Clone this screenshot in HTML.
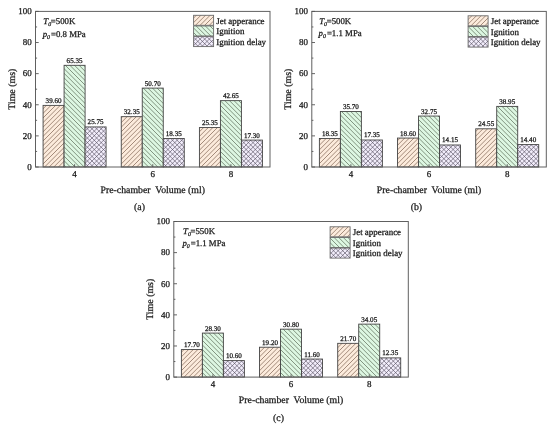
<!DOCTYPE html>
<html><head><meta charset="utf-8"><title>Chart</title><style>
html,body{margin:0;padding:0;background:#fff;}
svg{display:block;filter:blur(0.35px);}
text{font-family:"Liberation Serif",serif;}
</style></head><body>
<svg width="550" height="428" viewBox="0 0 550 428">
<rect width="550" height="428" fill="#fff"/>
<clipPath id="c1"><rect x="43.08" y="105.38" width="21.00" height="61.62"/></clipPath><rect x="43.08" y="105.38" width="21.00" height="61.62" fill="#fcebdc"/><path clip-path="url(#c1)" d="M-20.80 168.00L42.82 104.38M-16.20 168.00L47.42 104.38M-11.60 168.00L52.02 104.38M-7.00 168.00L56.62 104.38M-2.40 168.00L61.22 104.38M2.20 168.00L65.82 104.38M6.80 168.00L70.42 104.38M11.40 168.00L75.02 104.38M16.00 168.00L79.62 104.38M20.60 168.00L84.22 104.38M25.20 168.00L88.82 104.38M29.80 168.00L93.42 104.38M34.40 168.00L98.02 104.38M39.00 168.00L102.62 104.38M43.60 168.00L107.22 104.38M48.20 168.00L111.82 104.38M52.80 168.00L116.42 104.38M57.40 168.00L121.02 104.38M62.00 168.00L125.62 104.38M66.60 168.00L130.22 104.38" stroke="#86695a" stroke-width="0.75" fill="none"/>
<rect x="43.08" y="105.38" width="21.00" height="61.62" fill="none" stroke="#444" stroke-width="0.9"/>
<clipPath id="c2"><rect x="64.08" y="65.32" width="21.00" height="101.68"/></clipPath><rect x="64.08" y="65.32" width="21.00" height="101.68" fill="#ddf7e2"/><path clip-path="url(#c2)" d="M-41.48 64.32L62.20 168.00M-36.88 64.32L66.80 168.00M-32.28 64.32L71.40 168.00M-27.68 64.32L76.00 168.00M-23.08 64.32L80.60 168.00M-18.48 64.32L85.20 168.00M-13.88 64.32L89.80 168.00M-9.28 64.32L94.40 168.00M-4.68 64.32L99.00 168.00M-0.08 64.32L103.60 168.00M4.52 64.32L108.20 168.00M9.12 64.32L112.80 168.00M13.72 64.32L117.40 168.00M18.32 64.32L122.00 168.00M22.92 64.32L126.60 168.00M27.52 64.32L131.20 168.00M32.12 64.32L135.80 168.00M36.72 64.32L140.40 168.00M41.32 64.32L145.00 168.00M45.92 64.32L149.60 168.00M50.52 64.32L154.20 168.00M55.12 64.32L158.80 168.00M59.72 64.32L163.40 168.00M64.32 64.32L168.00 168.00M68.92 64.32L172.60 168.00M73.52 64.32L177.20 168.00M78.12 64.32L181.80 168.00M82.72 64.32L186.40 168.00M87.32 64.32L191.00 168.00" stroke="#63715f" stroke-width="0.75" fill="none"/>
<rect x="64.08" y="65.32" width="21.00" height="101.68" fill="none" stroke="#444" stroke-width="0.9"/>
<clipPath id="c3"><rect x="85.08" y="126.93" width="21.00" height="40.07"/></clipPath><rect x="85.08" y="126.93" width="21.00" height="40.07" fill="#f1ecfa"/><path clip-path="url(#c3)" d="M43.60 168.00L85.67 125.93M48.20 168.00L90.27 125.93M52.80 168.00L94.87 125.93M57.40 168.00L99.47 125.93M62.00 168.00L104.07 125.93M66.60 168.00L108.67 125.93M71.20 168.00L113.27 125.93M75.80 168.00L117.87 125.93M80.40 168.00L122.47 125.93M85.00 168.00L127.07 125.93M89.60 168.00L131.67 125.93M94.20 168.00L136.27 125.93M98.80 168.00L140.87 125.93M103.40 168.00L145.47 125.93M108.00 168.00L150.07 125.93M43.13 125.93L85.20 168.00M47.73 125.93L89.80 168.00M52.33 125.93L94.40 168.00M56.93 125.93L99.00 168.00M61.53 125.93L103.60 168.00M66.13 125.93L108.20 168.00M70.73 125.93L112.80 168.00M75.33 125.93L117.40 168.00M79.93 125.93L122.00 168.00M84.53 125.93L126.60 168.00M89.13 125.93L131.20 168.00M93.73 125.93L135.80 168.00M98.33 125.93L140.40 168.00M102.93 125.93L145.00 168.00M107.53 125.93L149.60 168.00" stroke="#4e4658" stroke-width="0.6" fill="none"/>
<rect x="85.08" y="126.93" width="21.00" height="40.07" fill="none" stroke="#444" stroke-width="0.9"/>
<clipPath id="c4"><rect x="121.25" y="116.66" width="21.00" height="50.34"/></clipPath><rect x="121.25" y="116.66" width="21.00" height="50.34" fill="#fcebdc"/><path clip-path="url(#c4)" d="M66.60 168.00L118.94 115.66M71.20 168.00L123.54 115.66M75.80 168.00L128.14 115.66M80.40 168.00L132.74 115.66M85.00 168.00L137.34 115.66M89.60 168.00L141.94 115.66M94.20 168.00L146.54 115.66M98.80 168.00L151.14 115.66M103.40 168.00L155.74 115.66M108.00 168.00L160.34 115.66M112.60 168.00L164.94 115.66M117.20 168.00L169.54 115.66M121.80 168.00L174.14 115.66M126.40 168.00L178.74 115.66M131.00 168.00L183.34 115.66M135.60 168.00L187.94 115.66M140.20 168.00L192.54 115.66M144.80 168.00L197.14 115.66" stroke="#86695a" stroke-width="0.75" fill="none"/>
<rect x="121.25" y="116.66" width="21.00" height="50.34" fill="none" stroke="#444" stroke-width="0.9"/>
<clipPath id="c5"><rect x="142.25" y="88.11" width="21.00" height="78.89"/></clipPath><rect x="142.25" y="88.11" width="21.00" height="78.89" fill="#ddf7e2"/><path clip-path="url(#c5)" d="M59.51 87.11L140.40 168.00M64.11 87.11L145.00 168.00M68.71 87.11L149.60 168.00M73.31 87.11L154.20 168.00M77.91 87.11L158.80 168.00M82.51 87.11L163.40 168.00M87.11 87.11L168.00 168.00M91.71 87.11L172.60 168.00M96.31 87.11L177.20 168.00M100.91 87.11L181.80 168.00M105.51 87.11L186.40 168.00M110.11 87.11L191.00 168.00M114.71 87.11L195.60 168.00M119.31 87.11L200.20 168.00M123.91 87.11L204.80 168.00M128.51 87.11L209.40 168.00M133.11 87.11L214.00 168.00M137.71 87.11L218.60 168.00M142.31 87.11L223.20 168.00M146.91 87.11L227.80 168.00M151.51 87.11L232.40 168.00M156.11 87.11L237.00 168.00M160.71 87.11L241.60 168.00M165.31 87.11L246.20 168.00" stroke="#63715f" stroke-width="0.75" fill="none"/>
<rect x="142.25" y="88.11" width="21.00" height="78.89" fill="none" stroke="#444" stroke-width="0.9"/>
<clipPath id="c6"><rect x="163.25" y="138.45" width="21.00" height="28.55"/></clipPath><rect x="163.25" y="138.45" width="21.00" height="28.55" fill="#f1ecfa"/><path clip-path="url(#c6)" d="M131.00 168.00L161.55 137.45M135.60 168.00L166.15 137.45M140.20 168.00L170.75 137.45M144.80 168.00L175.35 137.45M149.40 168.00L179.95 137.45M154.00 168.00L184.55 137.45M158.60 168.00L189.15 137.45M163.20 168.00L193.75 137.45M167.80 168.00L198.35 137.45M172.40 168.00L202.95 137.45M177.00 168.00L207.55 137.45M181.60 168.00L212.15 137.45M186.20 168.00L216.75 137.45M132.85 137.45L163.40 168.00M137.45 137.45L168.00 168.00M142.05 137.45L172.60 168.00M146.65 137.45L177.20 168.00M151.25 137.45L181.80 168.00M155.85 137.45L186.40 168.00M160.45 137.45L191.00 168.00M165.05 137.45L195.60 168.00M169.65 137.45L200.20 168.00M174.25 137.45L204.80 168.00M178.85 137.45L209.40 168.00M183.45 137.45L214.00 168.00" stroke="#4e4658" stroke-width="0.6" fill="none"/>
<rect x="163.25" y="138.45" width="21.00" height="28.55" fill="none" stroke="#444" stroke-width="0.9"/>
<clipPath id="c7"><rect x="199.42" y="127.56" width="21.00" height="39.44"/></clipPath><rect x="199.42" y="127.56" width="21.00" height="39.44" fill="#fcebdc"/><path clip-path="url(#c7)" d="M158.60 168.00L200.04 126.56M163.20 168.00L204.64 126.56M167.80 168.00L209.24 126.56M172.40 168.00L213.84 126.56M177.00 168.00L218.44 126.56M181.60 168.00L223.04 126.56M186.20 168.00L227.64 126.56M190.80 168.00L232.24 126.56M195.40 168.00L236.84 126.56M200.00 168.00L241.44 126.56M204.60 168.00L246.04 126.56M209.20 168.00L250.64 126.56M213.80 168.00L255.24 126.56M218.40 168.00L259.84 126.56M223.00 168.00L264.44 126.56" stroke="#86695a" stroke-width="0.75" fill="none"/>
<rect x="199.42" y="127.56" width="21.00" height="39.44" fill="none" stroke="#444" stroke-width="0.9"/>
<clipPath id="c8"><rect x="220.42" y="100.64" width="21.00" height="66.36"/></clipPath><rect x="220.42" y="100.64" width="21.00" height="66.36" fill="#ddf7e2"/><path clip-path="url(#c8)" d="M150.24 99.64L218.60 168.00M154.84 99.64L223.20 168.00M159.44 99.64L227.80 168.00M164.04 99.64L232.40 168.00M168.64 99.64L237.00 168.00M173.24 99.64L241.60 168.00M177.84 99.64L246.20 168.00M182.44 99.64L250.80 168.00M187.04 99.64L255.40 168.00M191.64 99.64L260.00 168.00M196.24 99.64L264.60 168.00M200.84 99.64L269.20 168.00M205.44 99.64L273.80 168.00M210.04 99.64L278.40 168.00M214.64 99.64L283.00 168.00M219.24 99.64L287.60 168.00M223.84 99.64L292.20 168.00M228.44 99.64L296.80 168.00M233.04 99.64L301.40 168.00M237.64 99.64L306.00 168.00M242.24 99.64L310.60 168.00" stroke="#63715f" stroke-width="0.75" fill="none"/>
<rect x="220.42" y="100.64" width="21.00" height="66.36" fill="none" stroke="#444" stroke-width="0.9"/>
<clipPath id="c9"><rect x="241.42" y="140.08" width="21.00" height="26.92"/></clipPath><rect x="241.42" y="140.08" width="21.00" height="26.92" fill="#f1ecfa"/><path clip-path="url(#c9)" d="M209.20 168.00L238.12 139.08M213.80 168.00L242.72 139.08M218.40 168.00L247.32 139.08M223.00 168.00L251.92 139.08M227.60 168.00L256.52 139.08M232.20 168.00L261.12 139.08M236.80 168.00L265.72 139.08M241.40 168.00L270.32 139.08M246.00 168.00L274.92 139.08M250.60 168.00L279.52 139.08M255.20 168.00L284.12 139.08M259.80 168.00L288.72 139.08M264.40 168.00L293.32 139.08M212.68 139.08L241.60 168.00M217.28 139.08L246.20 168.00M221.88 139.08L250.80 168.00M226.48 139.08L255.40 168.00M231.08 139.08L260.00 168.00M235.68 139.08L264.60 168.00M240.28 139.08L269.20 168.00M244.88 139.08L273.80 168.00M249.48 139.08L278.40 168.00M254.08 139.08L283.00 168.00M258.68 139.08L287.60 168.00M263.28 139.08L292.20 168.00" stroke="#4e4658" stroke-width="0.6" fill="none"/>
<rect x="241.42" y="140.08" width="21.00" height="26.92" fill="none" stroke="#444" stroke-width="0.9"/>
<rect x="35.5" y="11.4" width="234.5" height="155.6" fill="none" stroke="#606060" stroke-width="1"/>
<line x1="35.5" y1="167.00" x2="38.7" y2="167.00" stroke="#555" stroke-width="0.9"/>
<line x1="35.5" y1="151.44" x2="37.1" y2="151.44" stroke="#555" stroke-width="0.9"/>
<line x1="35.5" y1="135.88" x2="38.7" y2="135.88" stroke="#555" stroke-width="0.9"/>
<line x1="35.5" y1="120.32" x2="37.1" y2="120.32" stroke="#555" stroke-width="0.9"/>
<line x1="35.5" y1="104.76" x2="38.7" y2="104.76" stroke="#555" stroke-width="0.9"/>
<line x1="35.5" y1="89.20" x2="37.1" y2="89.20" stroke="#555" stroke-width="0.9"/>
<line x1="35.5" y1="73.64" x2="38.7" y2="73.64" stroke="#555" stroke-width="0.9"/>
<line x1="35.5" y1="58.08" x2="37.1" y2="58.08" stroke="#555" stroke-width="0.9"/>
<line x1="35.5" y1="42.52" x2="38.7" y2="42.52" stroke="#555" stroke-width="0.9"/>
<line x1="35.5" y1="26.96" x2="37.1" y2="26.96" stroke="#555" stroke-width="0.9"/>
<line x1="35.5" y1="11.40" x2="38.7" y2="11.40" stroke="#555" stroke-width="0.9"/>
<line x1="74.58" y1="167.0" x2="74.58" y2="164.20" stroke="#555" stroke-width="0.9"/>
<line x1="152.75" y1="167.0" x2="152.75" y2="164.20" stroke="#555" stroke-width="0.9"/>
<line x1="230.92" y1="167.0" x2="230.92" y2="164.20" stroke="#555" stroke-width="0.9"/>
<clipPath id="c10"><rect x="193.60" y="15.30" width="20.00" height="10.00"/></clipPath><rect x="193.60" y="15.30" width="20.00" height="10.00" fill="#fcebdc"/><path clip-path="url(#c10)" d="M180.70 26.30L192.70 14.30M185.30 26.30L197.30 14.30M189.90 26.30L201.90 14.30M194.50 26.30L206.50 14.30M199.10 26.30L211.10 14.30M203.70 26.30L215.70 14.30M208.30 26.30L220.30 14.30M212.90 26.30L224.90 14.30" stroke="#86695a" stroke-width="0.75" fill="none"/>
<rect x="193.60" y="15.30" width="20" height="10" fill="none" stroke="#6a6a6a" stroke-width="0.9"/>
<clipPath id="c11"><rect x="193.60" y="25.95" width="20.00" height="10.00"/></clipPath><rect x="193.60" y="25.95" width="20.00" height="10.00" fill="#ddf7e2"/><path clip-path="url(#c11)" d="M181.35 24.95L193.35 36.95M185.95 24.95L197.95 36.95M190.55 24.95L202.55 36.95M195.15 24.95L207.15 36.95M199.75 24.95L211.75 36.95M204.35 24.95L216.35 36.95M208.95 24.95L220.95 36.95M213.55 24.95L225.55 36.95" stroke="#63715f" stroke-width="0.75" fill="none"/>
<rect x="193.60" y="25.95" width="20" height="10" fill="none" stroke="#6a6a6a" stroke-width="0.9"/>
<clipPath id="c12"><rect x="193.60" y="36.60" width="20.00" height="10.00"/></clipPath><rect x="193.60" y="36.60" width="20.00" height="10.00" fill="#f1ecfa"/><path clip-path="url(#c12)" d="M182.40 47.60L194.40 35.60M187.00 47.60L199.00 35.60M191.60 47.60L203.60 35.60M196.20 47.60L208.20 35.60M200.80 47.60L212.80 35.60M205.40 47.60L217.40 35.60M210.00 47.60L222.00 35.60M214.60 47.60L226.60 35.60M178.20 35.60L190.20 47.60M182.80 35.60L194.80 47.60M187.40 35.60L199.40 47.60M192.00 35.60L204.00 47.60M196.60 35.60L208.60 47.60M201.20 35.60L213.20 47.60M205.80 35.60L217.80 47.60M210.40 35.60L222.40 47.60M215.00 35.60L227.00 47.60" stroke="#4e4658" stroke-width="0.6" fill="none"/>
<rect x="193.60" y="36.60" width="20" height="10" fill="none" stroke="#6a6a6a" stroke-width="0.9"/>
<g fill="#1a1a1a" stroke="#1a1a1a" stroke-width="0.26">
<text x="53.58" y="102.88" font-size="7.1" text-anchor="middle" transform="matrix(1 0 0.00175 1 -0.1796 0)">39.60</text>
<text x="74.58" y="62.82" font-size="7.1" text-anchor="middle" transform="matrix(1 0 0.00175 1 -0.1096 0)">65.35</text>
<text x="95.58" y="124.43" font-size="7.1" text-anchor="middle" transform="matrix(1 0 0.00175 1 -0.2172 0)">25.75</text>
<text x="131.75" y="114.16" font-size="7.1" text-anchor="middle" transform="matrix(1 0 0.00175 1 -0.1993 0)">32.35</text>
<text x="152.75" y="85.61" font-size="7.1" text-anchor="middle" transform="matrix(1 0 0.00175 1 -0.1494 0)">50.70</text>
<text x="173.75" y="135.95" font-size="7.1" text-anchor="middle" transform="matrix(1 0 0.00175 1 -0.2373 0)">18.35</text>
<text x="209.92" y="125.06" font-size="7.1" text-anchor="middle" transform="matrix(1 0 0.00175 1 -0.2183 0)">25.35</text>
<text x="230.92" y="98.14" font-size="7.1" text-anchor="middle" transform="matrix(1 0 0.00175 1 -0.1713 0)">42.65</text>
<text x="251.92" y="137.58" font-size="7.1" text-anchor="middle" transform="matrix(1 0 0.00175 1 -0.2401 0)">17.30</text>
<text x="31.70" y="169.80" font-size="9.0" text-anchor="end" transform="matrix(1 0 0.00175 1 -0.2964 0)">0</text>
<text x="31.70" y="138.68" font-size="9.0" text-anchor="end" transform="matrix(1 0 0.00175 1 -0.2420 0)">20</text>
<text x="31.70" y="107.56" font-size="9.0" text-anchor="end" transform="matrix(1 0 0.00175 1 -0.1877 0)">40</text>
<text x="31.70" y="76.44" font-size="9.0" text-anchor="end" transform="matrix(1 0 0.00175 1 -0.1334 0)">60</text>
<text x="31.70" y="45.32" font-size="9.0" text-anchor="end" transform="matrix(1 0 0.00175 1 -0.0791 0)">80</text>
<text x="31.70" y="14.20" font-size="9.0" text-anchor="end" transform="matrix(1 0 0.00175 1 -0.0248 0)">100</text>
<text x="74.58" y="176.80" font-size="9.0" text-anchor="middle" transform="matrix(1 0 0.00175 1 -0.3086 0)">4</text>
<text x="152.75" y="176.80" font-size="9.0" text-anchor="middle" transform="matrix(1 0 0.00175 1 -0.3086 0)">6</text>
<text x="230.92" y="176.80" font-size="9.0" text-anchor="middle" transform="matrix(1 0 0.00175 1 -0.3086 0)">8</text>
<text x="152.75" y="193.20" text-anchor="middle" transform="matrix(1 0 0.00175 1 -0.3372 0)"><tspan font-size="9.80">Pre-chamber</tspan><tspan font-size="9.80">&#160; Volume (ml)</tspan></text>
<text transform="translate(14.90,89.20) rotate(-90) skewX(0.1)" font-size="9.9" text-anchor="middle">Time (ms)</text>
<text x="139.50" y="210.10" font-size="9.9" text-anchor="middle" transform="matrix(1 0 0.00175 1 -0.3667 0)">(a)</text>
<text x="43.30" y="23.55" transform="matrix(1 0 0.00175 1 -0.0411 0)"><tspan font-style="italic" font-size="8.80">T</tspan><tspan font-style="italic" font-size="5.81" dy="2">0</tspan><tspan font-size="8.80" dx="-0.3" dy="-2">=500K</tspan></text>
<text x="42.70" y="36.90" transform="matrix(1 0 0.00175 1 -0.0644 0)"><tspan font-style="italic" font-size="8.80">p</tspan><tspan font-style="italic" font-size="5.81" dy="2">0</tspan><tspan font-size="8.80" dx="1.0" dy="-2">=0.8 MPa</tspan></text>
<text x="216.20" y="23.70" font-size="8.95" transform="matrix(1 0 0.00175 1 -0.0414 0)">Jet apperance</text>
<text x="216.20" y="34.35" font-size="8.95" transform="matrix(1 0 0.00175 1 -0.0600 0)">Ignition</text>
<text x="216.20" y="45.00" font-size="8.95" transform="matrix(1 0 0.00175 1 -0.0785 0)">Ignition delay</text>
</g>
<clipPath id="c13"><rect x="319.38" y="138.45" width="21.00" height="28.55"/></clipPath><rect x="319.38" y="138.45" width="21.00" height="28.55" fill="#fcebdc"/><path clip-path="url(#c13)" d="M287.40 168.00L317.95 137.45M292.00 168.00L322.55 137.45M296.60 168.00L327.15 137.45M301.20 168.00L331.75 137.45M305.80 168.00L336.35 137.45M310.40 168.00L340.95 137.45M315.00 168.00L345.55 137.45M319.60 168.00L350.15 137.45M324.20 168.00L354.75 137.45M328.80 168.00L359.35 137.45M333.40 168.00L363.95 137.45M338.00 168.00L368.55 137.45M342.60 168.00L373.15 137.45" stroke="#86695a" stroke-width="0.75" fill="none"/>
<rect x="319.38" y="138.45" width="21.00" height="28.55" fill="none" stroke="#444" stroke-width="0.9"/>
<clipPath id="c14"><rect x="340.38" y="111.45" width="21.00" height="55.55"/></clipPath><rect x="340.38" y="111.45" width="21.00" height="55.55" fill="#ddf7e2"/><path clip-path="url(#c14)" d="M280.65 110.45L338.20 168.00M285.25 110.45L342.80 168.00M289.85 110.45L347.40 168.00M294.45 110.45L352.00 168.00M299.05 110.45L356.60 168.00M303.65 110.45L361.20 168.00M308.25 110.45L365.80 168.00M312.85 110.45L370.40 168.00M317.45 110.45L375.00 168.00M322.05 110.45L379.60 168.00M326.65 110.45L384.20 168.00M331.25 110.45L388.80 168.00M335.85 110.45L393.40 168.00M340.45 110.45L398.00 168.00M345.05 110.45L402.60 168.00M349.65 110.45L407.20 168.00M354.25 110.45L411.80 168.00M358.85 110.45L416.40 168.00M363.45 110.45L421.00 168.00" stroke="#63715f" stroke-width="0.75" fill="none"/>
<rect x="340.38" y="111.45" width="21.00" height="55.55" fill="none" stroke="#444" stroke-width="0.9"/>
<clipPath id="c15"><rect x="361.38" y="140.00" width="21.00" height="27.00"/></clipPath><rect x="361.38" y="140.00" width="21.00" height="27.00" fill="#f1ecfa"/><path clip-path="url(#c15)" d="M328.80 168.00L357.80 139.00M333.40 168.00L362.40 139.00M338.00 168.00L367.00 139.00M342.60 168.00L371.60 139.00M347.20 168.00L376.20 139.00M351.80 168.00L380.80 139.00M356.40 168.00L385.40 139.00M361.00 168.00L390.00 139.00M365.60 168.00L394.60 139.00M370.20 168.00L399.20 139.00M374.80 168.00L403.80 139.00M379.40 168.00L408.40 139.00M384.00 168.00L413.00 139.00M332.20 139.00L361.20 168.00M336.80 139.00L365.80 168.00M341.40 139.00L370.40 168.00M346.00 139.00L375.00 168.00M350.60 139.00L379.60 168.00M355.20 139.00L384.20 168.00M359.80 139.00L388.80 168.00M364.40 139.00L393.40 168.00M369.00 139.00L398.00 168.00M373.60 139.00L402.60 168.00M378.20 139.00L407.20 168.00M382.80 139.00L411.80 168.00" stroke="#4e4658" stroke-width="0.6" fill="none"/>
<rect x="361.38" y="140.00" width="21.00" height="27.00" fill="none" stroke="#444" stroke-width="0.9"/>
<clipPath id="c16"><rect x="397.55" y="138.06" width="21.00" height="28.94"/></clipPath><rect x="397.55" y="138.06" width="21.00" height="28.94" fill="#fcebdc"/><path clip-path="url(#c16)" d="M365.60 168.00L396.54 137.06M370.20 168.00L401.14 137.06M374.80 168.00L405.74 137.06M379.40 168.00L410.34 137.06M384.00 168.00L414.94 137.06M388.60 168.00L419.54 137.06M393.20 168.00L424.14 137.06M397.80 168.00L428.74 137.06M402.40 168.00L433.34 137.06M407.00 168.00L437.94 137.06M411.60 168.00L442.54 137.06M416.20 168.00L447.14 137.06M420.80 168.00L451.74 137.06" stroke="#86695a" stroke-width="0.75" fill="none"/>
<rect x="397.55" y="138.06" width="21.00" height="28.94" fill="none" stroke="#444" stroke-width="0.9"/>
<clipPath id="c17"><rect x="418.55" y="116.04" width="21.00" height="50.96"/></clipPath><rect x="418.55" y="116.04" width="21.00" height="50.96" fill="#ddf7e2"/><path clip-path="url(#c17)" d="M363.44 115.04L416.40 168.00M368.04 115.04L421.00 168.00M372.64 115.04L425.60 168.00M377.24 115.04L430.20 168.00M381.84 115.04L434.80 168.00M386.44 115.04L439.40 168.00M391.04 115.04L444.00 168.00M395.64 115.04L448.60 168.00M400.24 115.04L453.20 168.00M404.84 115.04L457.80 168.00M409.44 115.04L462.40 168.00M414.04 115.04L467.00 168.00M418.64 115.04L471.60 168.00M423.24 115.04L476.20 168.00M427.84 115.04L480.80 168.00M432.44 115.04L485.40 168.00M437.04 115.04L490.00 168.00M441.64 115.04L494.60 168.00" stroke="#63715f" stroke-width="0.75" fill="none"/>
<rect x="418.55" y="116.04" width="21.00" height="50.96" fill="none" stroke="#444" stroke-width="0.9"/>
<clipPath id="c18"><rect x="439.55" y="144.98" width="21.00" height="22.02"/></clipPath><rect x="439.55" y="144.98" width="21.00" height="22.02" fill="#f1ecfa"/><path clip-path="url(#c18)" d="M416.20 168.00L440.22 143.98M420.80 168.00L444.82 143.98M425.40 168.00L449.42 143.98M430.00 168.00L454.02 143.98M434.60 168.00L458.62 143.98M439.20 168.00L463.22 143.98M443.80 168.00L467.82 143.98M448.40 168.00L472.42 143.98M453.00 168.00L477.02 143.98M457.60 168.00L481.62 143.98M462.20 168.00L486.22 143.98M415.38 143.98L439.40 168.00M419.98 143.98L444.00 168.00M424.58 143.98L448.60 168.00M429.18 143.98L453.20 168.00M433.78 143.98L457.80 168.00M438.38 143.98L462.40 168.00M442.98 143.98L467.00 168.00M447.58 143.98L471.60 168.00M452.18 143.98L476.20 168.00M456.78 143.98L480.80 168.00M461.38 143.98L485.40 168.00" stroke="#4e4658" stroke-width="0.6" fill="none"/>
<rect x="439.55" y="144.98" width="21.00" height="22.02" fill="none" stroke="#444" stroke-width="0.9"/>
<clipPath id="c19"><rect x="475.72" y="128.80" width="21.00" height="38.20"/></clipPath><rect x="475.72" y="128.80" width="21.00" height="38.20" fill="#fcebdc"/><path clip-path="url(#c19)" d="M434.60 168.00L474.80 127.80M439.20 168.00L479.40 127.80M443.80 168.00L484.00 127.80M448.40 168.00L488.60 127.80M453.00 168.00L493.20 127.80M457.60 168.00L497.80 127.80M462.20 168.00L502.40 127.80M466.80 168.00L507.00 127.80M471.40 168.00L511.60 127.80M476.00 168.00L516.20 127.80M480.60 168.00L520.80 127.80M485.20 168.00L525.40 127.80M489.80 168.00L530.00 127.80M494.40 168.00L534.60 127.80M499.00 168.00L539.20 127.80" stroke="#86695a" stroke-width="0.75" fill="none"/>
<rect x="475.72" y="128.80" width="21.00" height="38.20" fill="none" stroke="#444" stroke-width="0.9"/>
<clipPath id="c20"><rect x="496.72" y="106.39" width="21.00" height="60.61"/></clipPath><rect x="496.72" y="106.39" width="21.00" height="60.61" fill="#ddf7e2"/><path clip-path="url(#c20)" d="M431.99 105.39L494.60 168.00M436.59 105.39L499.20 168.00M441.19 105.39L503.80 168.00M445.79 105.39L508.40 168.00M450.39 105.39L513.00 168.00M454.99 105.39L517.60 168.00M459.59 105.39L522.20 168.00M464.19 105.39L526.80 168.00M468.79 105.39L531.40 168.00M473.39 105.39L536.00 168.00M477.99 105.39L540.60 168.00M482.59 105.39L545.20 168.00M487.19 105.39L549.80 168.00M491.79 105.39L554.40 168.00M496.39 105.39L559.00 168.00M500.99 105.39L563.60 168.00M505.59 105.39L568.20 168.00M510.19 105.39L572.80 168.00M514.79 105.39L577.40 168.00M519.39 105.39L582.00 168.00" stroke="#63715f" stroke-width="0.75" fill="none"/>
<rect x="496.72" y="106.39" width="21.00" height="60.61" fill="none" stroke="#444" stroke-width="0.9"/>
<clipPath id="c21"><rect x="517.72" y="144.59" width="21.00" height="22.41"/></clipPath><rect x="517.72" y="144.59" width="21.00" height="22.41" fill="#f1ecfa"/><path clip-path="url(#c21)" d="M489.80 168.00L514.21 143.59M494.40 168.00L518.81 143.59M499.00 168.00L523.41 143.59M503.60 168.00L528.01 143.59M508.20 168.00L532.61 143.59M512.80 168.00L537.21 143.59M517.40 168.00L541.81 143.59M522.00 168.00L546.41 143.59M526.60 168.00L551.01 143.59M531.20 168.00L555.61 143.59M535.80 168.00L560.21 143.59M540.40 168.00L564.81 143.59M493.19 143.59L517.60 168.00M497.79 143.59L522.20 168.00M502.39 143.59L526.80 168.00M506.99 143.59L531.40 168.00M511.59 143.59L536.00 168.00M516.19 143.59L540.60 168.00M520.79 143.59L545.20 168.00M525.39 143.59L549.80 168.00M529.99 143.59L554.40 168.00M534.59 143.59L559.00 168.00M539.19 143.59L563.60 168.00" stroke="#4e4658" stroke-width="0.6" fill="none"/>
<rect x="517.72" y="144.59" width="21.00" height="22.41" fill="none" stroke="#444" stroke-width="0.9"/>
<rect x="311.8" y="11.4" width="234.5" height="155.6" fill="none" stroke="#606060" stroke-width="1"/>
<line x1="311.8" y1="167.00" x2="315.0" y2="167.00" stroke="#555" stroke-width="0.9"/>
<line x1="311.8" y1="151.44" x2="313.40000000000003" y2="151.44" stroke="#555" stroke-width="0.9"/>
<line x1="311.8" y1="135.88" x2="315.0" y2="135.88" stroke="#555" stroke-width="0.9"/>
<line x1="311.8" y1="120.32" x2="313.40000000000003" y2="120.32" stroke="#555" stroke-width="0.9"/>
<line x1="311.8" y1="104.76" x2="315.0" y2="104.76" stroke="#555" stroke-width="0.9"/>
<line x1="311.8" y1="89.20" x2="313.40000000000003" y2="89.20" stroke="#555" stroke-width="0.9"/>
<line x1="311.8" y1="73.64" x2="315.0" y2="73.64" stroke="#555" stroke-width="0.9"/>
<line x1="311.8" y1="58.08" x2="313.40000000000003" y2="58.08" stroke="#555" stroke-width="0.9"/>
<line x1="311.8" y1="42.52" x2="315.0" y2="42.52" stroke="#555" stroke-width="0.9"/>
<line x1="311.8" y1="26.96" x2="313.40000000000003" y2="26.96" stroke="#555" stroke-width="0.9"/>
<line x1="311.8" y1="11.40" x2="315.0" y2="11.40" stroke="#555" stroke-width="0.9"/>
<line x1="350.88" y1="167.0" x2="350.88" y2="164.20" stroke="#555" stroke-width="0.9"/>
<line x1="429.05" y1="167.0" x2="429.05" y2="164.20" stroke="#555" stroke-width="0.9"/>
<line x1="507.22" y1="167.0" x2="507.22" y2="164.20" stroke="#555" stroke-width="0.9"/>
<clipPath id="c22"><rect x="468.10" y="15.80" width="20.00" height="10.00"/></clipPath><rect x="468.10" y="15.80" width="20.00" height="10.00" fill="#fcebdc"/><path clip-path="url(#c22)" d="M456.20 26.80L468.20 14.80M460.80 26.80L472.80 14.80M465.40 26.80L477.40 14.80M470.00 26.80L482.00 14.80M474.60 26.80L486.60 14.80M479.20 26.80L491.20 14.80M483.80 26.80L495.80 14.80M488.40 26.80L500.40 14.80" stroke="#86695a" stroke-width="0.75" fill="none"/>
<rect x="468.10" y="15.80" width="20" height="10" fill="none" stroke="#6a6a6a" stroke-width="0.9"/>
<clipPath id="c23"><rect x="468.10" y="26.45" width="20.00" height="10.00"/></clipPath><rect x="468.10" y="26.45" width="20.00" height="10.00" fill="#ddf7e2"/><path clip-path="url(#c23)" d="M453.25 25.45L465.25 37.45M457.85 25.45L469.85 37.45M462.45 25.45L474.45 37.45M467.05 25.45L479.05 37.45M471.65 25.45L483.65 37.45M476.25 25.45L488.25 37.45M480.85 25.45L492.85 37.45M485.45 25.45L497.45 37.45M490.05 25.45L502.05 37.45" stroke="#63715f" stroke-width="0.75" fill="none"/>
<rect x="468.10" y="26.45" width="20" height="10" fill="none" stroke="#6a6a6a" stroke-width="0.9"/>
<clipPath id="c24"><rect x="468.10" y="37.10" width="20.00" height="10.00"/></clipPath><rect x="468.10" y="37.10" width="20.00" height="10.00" fill="#f1ecfa"/><path clip-path="url(#c24)" d="M453.30 48.10L465.30 36.10M457.90 48.10L469.90 36.10M462.50 48.10L474.50 36.10M467.10 48.10L479.10 36.10M471.70 48.10L483.70 36.10M476.30 48.10L488.30 36.10M480.90 48.10L492.90 36.10M485.50 48.10L497.50 36.10M490.10 48.10L502.10 36.10M454.70 36.10L466.70 48.10M459.30 36.10L471.30 48.10M463.90 36.10L475.90 48.10M468.50 36.10L480.50 48.10M473.10 36.10L485.10 48.10M477.70 36.10L489.70 48.10M482.30 36.10L494.30 48.10M486.90 36.10L498.90 48.10M491.50 36.10L503.50 48.10" stroke="#4e4658" stroke-width="0.6" fill="none"/>
<rect x="468.10" y="37.10" width="20" height="10" fill="none" stroke="#6a6a6a" stroke-width="0.9"/>
<g fill="#1a1a1a" stroke="#1a1a1a" stroke-width="0.26">
<text x="329.88" y="135.95" font-size="7.1" text-anchor="middle" transform="matrix(1 0 0.00175 1 -0.2373 0)">18.35</text>
<text x="350.88" y="108.95" font-size="7.1" text-anchor="middle" transform="matrix(1 0 0.00175 1 -0.1902 0)">35.70</text>
<text x="371.88" y="137.50" font-size="7.1" text-anchor="middle" transform="matrix(1 0 0.00175 1 -0.2400 0)">17.35</text>
<text x="408.05" y="135.56" font-size="7.1" text-anchor="middle" transform="matrix(1 0 0.00175 1 -0.2366 0)">18.60</text>
<text x="429.05" y="113.54" font-size="7.1" text-anchor="middle" transform="matrix(1 0 0.00175 1 -0.1982 0)">32.75</text>
<text x="450.05" y="142.48" font-size="7.1" text-anchor="middle" transform="matrix(1 0 0.00175 1 -0.2487 0)">14.15</text>
<text x="486.22" y="126.30" font-size="7.1" text-anchor="middle" transform="matrix(1 0 0.00175 1 -0.2204 0)">24.55</text>
<text x="507.22" y="103.89" font-size="7.1" text-anchor="middle" transform="matrix(1 0 0.00175 1 -0.1813 0)">38.95</text>
<text x="528.22" y="142.09" font-size="7.1" text-anchor="middle" transform="matrix(1 0 0.00175 1 -0.2480 0)">14.40</text>
<text x="308.00" y="169.80" font-size="9.0" text-anchor="end" transform="matrix(1 0 0.00175 1 -0.2964 0)">0</text>
<text x="308.00" y="138.68" font-size="9.0" text-anchor="end" transform="matrix(1 0 0.00175 1 -0.2420 0)">20</text>
<text x="308.00" y="107.56" font-size="9.0" text-anchor="end" transform="matrix(1 0 0.00175 1 -0.1877 0)">40</text>
<text x="308.00" y="76.44" font-size="9.0" text-anchor="end" transform="matrix(1 0 0.00175 1 -0.1334 0)">60</text>
<text x="308.00" y="45.32" font-size="9.0" text-anchor="end" transform="matrix(1 0 0.00175 1 -0.0791 0)">80</text>
<text x="308.00" y="14.20" font-size="9.0" text-anchor="end" transform="matrix(1 0 0.00175 1 -0.0248 0)">100</text>
<text x="350.88" y="176.80" font-size="9.0" text-anchor="middle" transform="matrix(1 0 0.00175 1 -0.3086 0)">4</text>
<text x="429.05" y="176.80" font-size="9.0" text-anchor="middle" transform="matrix(1 0 0.00175 1 -0.3086 0)">6</text>
<text x="507.22" y="176.80" font-size="9.0" text-anchor="middle" transform="matrix(1 0 0.00175 1 -0.3086 0)">8</text>
<text x="429.05" y="193.20" text-anchor="middle" transform="matrix(1 0 0.00175 1 -0.3372 0)"><tspan font-size="9.80">Pre-chamber</tspan><tspan font-size="9.80">&#160; Volume (ml)</tspan></text>
<text transform="translate(291.20,89.20) rotate(-90) skewX(0.1)" font-size="9.9" text-anchor="middle">Time (ms)</text>
<text x="416.40" y="210.30" font-size="9.9" text-anchor="middle" transform="matrix(1 0 0.00175 1 -0.3670 0)">(b)</text>
<text x="319.20" y="23.55" transform="matrix(1 0 0.00175 1 -0.0411 0)"><tspan font-style="italic" font-size="8.80">T</tspan><tspan font-style="italic" font-size="5.81" dy="2">0</tspan><tspan font-size="8.80" dx="-0.3" dy="-2">=500K</tspan></text>
<text x="318.60" y="36.40" transform="matrix(1 0 0.00175 1 -0.0635 0)"><tspan font-style="italic" font-size="8.80">p</tspan><tspan font-style="italic" font-size="5.81" dy="2">0</tspan><tspan font-size="8.80" dx="1.0" dy="-2">=1.1 MPa</tspan></text>
<text x="490.70" y="24.20" font-size="8.95" transform="matrix(1 0 0.00175 1 -0.0422 0)">Jet apperance</text>
<text x="490.70" y="34.85" font-size="8.95" transform="matrix(1 0 0.00175 1 -0.0608 0)">Ignition</text>
<text x="490.70" y="45.50" font-size="8.95" transform="matrix(1 0 0.00175 1 -0.0794 0)">Ignition delay</text>
</g>
<clipPath id="c25"><rect x="181.38" y="349.56" width="21.00" height="27.54"/></clipPath><rect x="181.38" y="349.56" width="21.00" height="27.54" fill="#fcebdc"/><path clip-path="url(#c25)" d="M150.90 378.10L180.44 348.56M155.50 378.10L185.04 348.56M160.10 378.10L189.64 348.56M164.70 378.10L194.24 348.56M169.30 378.10L198.84 348.56M173.90 378.10L203.44 348.56M178.50 378.10L208.04 348.56M183.10 378.10L212.64 348.56M187.70 378.10L217.24 348.56M192.30 378.10L221.84 348.56M196.90 378.10L226.44 348.56M201.50 378.10L231.04 348.56" stroke="#86695a" stroke-width="0.75" fill="none"/>
<rect x="181.38" y="349.56" width="21.00" height="27.54" fill="none" stroke="#444" stroke-width="0.9"/>
<clipPath id="c26"><rect x="202.38" y="333.07" width="21.00" height="44.03"/></clipPath><rect x="202.38" y="333.07" width="21.00" height="44.03" fill="#ddf7e2"/><path clip-path="url(#c26)" d="M157.27 332.07L203.30 378.10M161.87 332.07L207.90 378.10M166.47 332.07L212.50 378.10M171.07 332.07L217.10 378.10M175.67 332.07L221.70 378.10M180.27 332.07L226.30 378.10M184.87 332.07L230.90 378.10M189.47 332.07L235.50 378.10M194.07 332.07L240.10 378.10M198.67 332.07L244.70 378.10M203.27 332.07L249.30 378.10M207.87 332.07L253.90 378.10M212.47 332.07L258.50 378.10M217.07 332.07L263.10 378.10M221.67 332.07L267.70 378.10M226.27 332.07L272.30 378.10" stroke="#63715f" stroke-width="0.75" fill="none"/>
<rect x="202.38" y="333.07" width="21.00" height="44.03" fill="none" stroke="#444" stroke-width="0.9"/>
<clipPath id="c27"><rect x="223.38" y="360.61" width="21.00" height="16.49"/></clipPath><rect x="223.38" y="360.61" width="21.00" height="16.49" fill="#f1ecfa"/><path clip-path="url(#c27)" d="M201.50 378.10L219.99 359.61M206.10 378.10L224.59 359.61M210.70 378.10L229.19 359.61M215.30 378.10L233.79 359.61M219.90 378.10L238.39 359.61M224.50 378.10L242.99 359.61M229.10 378.10L247.59 359.61M233.70 378.10L252.19 359.61M238.30 378.10L256.79 359.61M242.90 378.10L261.39 359.61M247.50 378.10L265.99 359.61M203.21 359.61L221.70 378.10M207.81 359.61L226.30 378.10M212.41 359.61L230.90 378.10M217.01 359.61L235.50 378.10M221.61 359.61L240.10 378.10M226.21 359.61L244.70 378.10M230.81 359.61L249.30 378.10M235.41 359.61L253.90 378.10M240.01 359.61L258.50 378.10M244.61 359.61L263.10 378.10" stroke="#4e4658" stroke-width="0.6" fill="none"/>
<rect x="223.38" y="360.61" width="21.00" height="16.49" fill="none" stroke="#444" stroke-width="0.9"/>
<clipPath id="c28"><rect x="259.55" y="347.22" width="21.00" height="29.88"/></clipPath><rect x="259.55" y="347.22" width="21.00" height="29.88" fill="#fcebdc"/><path clip-path="url(#c28)" d="M224.50 378.10L256.38 346.22M229.10 378.10L260.98 346.22M233.70 378.10L265.58 346.22M238.30 378.10L270.18 346.22M242.90 378.10L274.78 346.22M247.50 378.10L279.38 346.22M252.10 378.10L283.98 346.22M256.70 378.10L288.58 346.22M261.30 378.10L293.18 346.22M265.90 378.10L297.78 346.22M270.50 378.10L302.38 346.22M275.10 378.10L306.98 346.22M279.70 378.10L311.58 346.22" stroke="#86695a" stroke-width="0.75" fill="none"/>
<rect x="259.55" y="347.22" width="21.00" height="29.88" fill="none" stroke="#444" stroke-width="0.9"/>
<clipPath id="c29"><rect x="280.55" y="329.18" width="21.00" height="47.92"/></clipPath><rect x="280.55" y="329.18" width="21.00" height="47.92" fill="#ddf7e2"/><path clip-path="url(#c29)" d="M231.58 328.18L281.50 378.10M236.18 328.18L286.10 378.10M240.78 328.18L290.70 378.10M245.38 328.18L295.30 378.10M249.98 328.18L299.90 378.10M254.58 328.18L304.50 378.10M259.18 328.18L309.10 378.10M263.78 328.18L313.70 378.10M268.38 328.18L318.30 378.10M272.98 328.18L322.90 378.10M277.58 328.18L327.50 378.10M282.18 328.18L332.10 378.10M286.78 328.18L336.70 378.10M291.38 328.18L341.30 378.10M295.98 328.18L345.90 378.10M300.58 328.18L350.50 378.10" stroke="#63715f" stroke-width="0.75" fill="none"/>
<rect x="280.55" y="329.18" width="21.00" height="47.92" fill="none" stroke="#444" stroke-width="0.9"/>
<clipPath id="c30"><rect x="301.55" y="359.05" width="21.00" height="18.05"/></clipPath><rect x="301.55" y="359.05" width="21.00" height="18.05" fill="#f1ecfa"/><path clip-path="url(#c30)" d="M279.70 378.10L299.75 358.05M284.30 378.10L304.35 358.05M288.90 378.10L308.95 358.05M293.50 378.10L313.55 358.05M298.10 378.10L318.15 358.05M302.70 378.10L322.75 358.05M307.30 378.10L327.35 358.05M311.90 378.10L331.95 358.05M316.50 378.10L336.55 358.05M321.10 378.10L341.15 358.05M325.70 378.10L345.75 358.05M279.85 358.05L299.90 378.10M284.45 358.05L304.50 378.10M289.05 358.05L309.10 378.10M293.65 358.05L313.70 378.10M298.25 358.05L318.30 378.10M302.85 358.05L322.90 378.10M307.45 358.05L327.50 378.10M312.05 358.05L332.10 378.10M316.65 358.05L336.70 378.10M321.25 358.05L341.30 378.10M325.85 358.05L345.90 378.10" stroke="#4e4658" stroke-width="0.6" fill="none"/>
<rect x="301.55" y="359.05" width="21.00" height="18.05" fill="none" stroke="#444" stroke-width="0.9"/>
<clipPath id="c31"><rect x="337.72" y="343.33" width="21.00" height="33.77"/></clipPath><rect x="337.72" y="343.33" width="21.00" height="33.77" fill="#fcebdc"/><path clip-path="url(#c31)" d="M302.70 378.10L338.47 342.33M307.30 378.10L343.07 342.33M311.90 378.10L347.67 342.33M316.50 378.10L352.27 342.33M321.10 378.10L356.87 342.33M325.70 378.10L361.47 342.33M330.30 378.10L366.07 342.33M334.90 378.10L370.67 342.33M339.50 378.10L375.27 342.33M344.10 378.10L379.87 342.33M348.70 378.10L384.47 342.33M353.30 378.10L389.07 342.33M357.90 378.10L393.67 342.33" stroke="#86695a" stroke-width="0.75" fill="none"/>
<rect x="337.72" y="343.33" width="21.00" height="33.77" fill="none" stroke="#444" stroke-width="0.9"/>
<clipPath id="c32"><rect x="358.72" y="324.12" width="21.00" height="52.98"/></clipPath><rect x="358.72" y="324.12" width="21.00" height="52.98" fill="#ddf7e2"/><path clip-path="url(#c32)" d="M304.72 323.12L359.70 378.10M309.32 323.12L364.30 378.10M313.92 323.12L368.90 378.10M318.52 323.12L373.50 378.10M323.12 323.12L378.10 378.10M327.72 323.12L382.70 378.10M332.32 323.12L387.30 378.10M336.92 323.12L391.90 378.10M341.52 323.12L396.50 378.10M346.12 323.12L401.10 378.10M350.72 323.12L405.70 378.10M355.32 323.12L410.30 378.10M359.92 323.12L414.90 378.10M364.52 323.12L419.50 378.10M369.12 323.12L424.10 378.10M373.72 323.12L428.70 378.10M378.32 323.12L433.30 378.10M382.92 323.12L437.90 378.10" stroke="#63715f" stroke-width="0.75" fill="none"/>
<rect x="358.72" y="324.12" width="21.00" height="52.98" fill="none" stroke="#444" stroke-width="0.9"/>
<clipPath id="c33"><rect x="379.72" y="357.88" width="21.00" height="19.22"/></clipPath><rect x="379.72" y="357.88" width="21.00" height="19.22" fill="#f1ecfa"/><path clip-path="url(#c33)" d="M357.90 378.10L379.12 356.88M362.50 378.10L383.72 356.88M367.10 378.10L388.32 356.88M371.70 378.10L392.92 356.88M376.30 378.10L397.52 356.88M380.90 378.10L402.12 356.88M385.50 378.10L406.72 356.88M390.10 378.10L411.32 356.88M394.70 378.10L415.92 356.88M399.30 378.10L420.52 356.88M403.90 378.10L425.12 356.88M356.88 356.88L378.10 378.10M361.48 356.88L382.70 378.10M366.08 356.88L387.30 378.10M370.68 356.88L391.90 378.10M375.28 356.88L396.50 378.10M379.88 356.88L401.10 378.10M384.48 356.88L405.70 378.10M389.08 356.88L410.30 378.10M393.68 356.88L414.90 378.10M398.28 356.88L419.50 378.10M402.88 356.88L424.10 378.10" stroke="#4e4658" stroke-width="0.6" fill="none"/>
<rect x="379.72" y="357.88" width="21.00" height="19.22" fill="none" stroke="#444" stroke-width="0.9"/>
<rect x="173.8" y="221.5" width="234.5" height="155.6" fill="none" stroke="#606060" stroke-width="1"/>
<line x1="173.8" y1="377.10" x2="177.0" y2="377.10" stroke="#555" stroke-width="0.9"/>
<line x1="173.8" y1="361.54" x2="175.4" y2="361.54" stroke="#555" stroke-width="0.9"/>
<line x1="173.8" y1="345.98" x2="177.0" y2="345.98" stroke="#555" stroke-width="0.9"/>
<line x1="173.8" y1="330.42" x2="175.4" y2="330.42" stroke="#555" stroke-width="0.9"/>
<line x1="173.8" y1="314.86" x2="177.0" y2="314.86" stroke="#555" stroke-width="0.9"/>
<line x1="173.8" y1="299.30" x2="175.4" y2="299.30" stroke="#555" stroke-width="0.9"/>
<line x1="173.8" y1="283.74" x2="177.0" y2="283.74" stroke="#555" stroke-width="0.9"/>
<line x1="173.8" y1="268.18" x2="175.4" y2="268.18" stroke="#555" stroke-width="0.9"/>
<line x1="173.8" y1="252.62" x2="177.0" y2="252.62" stroke="#555" stroke-width="0.9"/>
<line x1="173.8" y1="237.06" x2="175.4" y2="237.06" stroke="#555" stroke-width="0.9"/>
<line x1="173.8" y1="221.50" x2="177.0" y2="221.50" stroke="#555" stroke-width="0.9"/>
<line x1="212.88" y1="377.1" x2="212.88" y2="374.30" stroke="#555" stroke-width="0.9"/>
<line x1="291.05" y1="377.1" x2="291.05" y2="374.30" stroke="#555" stroke-width="0.9"/>
<line x1="369.22" y1="377.1" x2="369.22" y2="374.30" stroke="#555" stroke-width="0.9"/>
<clipPath id="c34"><rect x="330.10" y="226.80" width="20.00" height="10.00"/></clipPath><rect x="330.10" y="226.80" width="20.00" height="10.00" fill="#fcebdc"/><path clip-path="url(#c34)" d="M318.80 237.80L330.80 225.80M323.40 237.80L335.40 225.80M328.00 237.80L340.00 225.80M332.60 237.80L344.60 225.80M337.20 237.80L349.20 225.80M341.80 237.80L353.80 225.80M346.40 237.80L358.40 225.80M351.00 237.80L363.00 225.80" stroke="#86695a" stroke-width="0.75" fill="none"/>
<rect x="330.10" y="226.80" width="20" height="10" fill="none" stroke="#6a6a6a" stroke-width="0.9"/>
<clipPath id="c35"><rect x="330.10" y="237.45" width="20.00" height="10.00"/></clipPath><rect x="330.10" y="237.45" width="20.00" height="10.00" fill="#ddf7e2"/><path clip-path="url(#c35)" d="M314.65 236.45L326.65 248.45M319.25 236.45L331.25 248.45M323.85 236.45L335.85 248.45M328.45 236.45L340.45 248.45M333.05 236.45L345.05 248.45M337.65 236.45L349.65 248.45M342.25 236.45L354.25 248.45M346.85 236.45L358.85 248.45M351.45 236.45L363.45 248.45" stroke="#63715f" stroke-width="0.75" fill="none"/>
<rect x="330.10" y="237.45" width="20" height="10" fill="none" stroke="#6a6a6a" stroke-width="0.9"/>
<clipPath id="c36"><rect x="330.10" y="248.10" width="20.00" height="10.00"/></clipPath><rect x="330.10" y="248.10" width="20.00" height="10.00" fill="#f1ecfa"/><path clip-path="url(#c36)" d="M315.90 259.10L327.90 247.10M320.50 259.10L332.50 247.10M325.10 259.10L337.10 247.10M329.70 259.10L341.70 247.10M334.30 259.10L346.30 247.10M338.90 259.10L350.90 247.10M343.50 259.10L355.50 247.10M348.10 259.10L360.10 247.10M352.70 259.10L364.70 247.10M316.10 247.10L328.10 259.10M320.70 247.10L332.70 259.10M325.30 247.10L337.30 259.10M329.90 247.10L341.90 259.10M334.50 247.10L346.50 259.10M339.10 247.10L351.10 259.10M343.70 247.10L355.70 259.10M348.30 247.10L360.30 259.10M352.90 247.10L364.90 259.10" stroke="#4e4658" stroke-width="0.6" fill="none"/>
<rect x="330.10" y="248.10" width="20" height="10" fill="none" stroke="#6a6a6a" stroke-width="0.9"/>
<g fill="#1a1a1a" stroke="#1a1a1a" stroke-width="0.26">
<text x="191.88" y="347.06" font-size="7.1" text-anchor="middle" transform="matrix(1 0 0.00175 1 -0.6057 0)">17.70</text>
<text x="212.88" y="330.57" font-size="7.1" text-anchor="middle" transform="matrix(1 0 0.00175 1 -0.5769 0)">28.30</text>
<text x="233.88" y="358.11" font-size="7.1" text-anchor="middle" transform="matrix(1 0 0.00175 1 -0.6250 0)">10.60</text>
<text x="270.05" y="344.72" font-size="7.1" text-anchor="middle" transform="matrix(1 0 0.00175 1 -0.6017 0)">19.20</text>
<text x="291.05" y="326.68" font-size="7.1" text-anchor="middle" transform="matrix(1 0 0.00175 1 -0.5702 0)">30.80</text>
<text x="312.05" y="356.55" font-size="7.1" text-anchor="middle" transform="matrix(1 0 0.00175 1 -0.6223 0)">11.60</text>
<text x="348.22" y="340.83" font-size="7.1" text-anchor="middle" transform="matrix(1 0 0.00175 1 -0.5949 0)">21.70</text>
<text x="369.22" y="321.62" font-size="7.1" text-anchor="middle" transform="matrix(1 0 0.00175 1 -0.5613 0)">34.05</text>
<text x="390.22" y="355.38" font-size="7.1" text-anchor="middle" transform="matrix(1 0 0.00175 1 -0.6203 0)">12.35</text>
<text x="170.00" y="379.90" font-size="9.0" text-anchor="end" transform="matrix(1 0 0.00175 1 -0.6631 0)">0</text>
<text x="170.00" y="348.78" font-size="9.0" text-anchor="end" transform="matrix(1 0 0.00175 1 -0.6087 0)">20</text>
<text x="170.00" y="317.66" font-size="9.0" text-anchor="end" transform="matrix(1 0 0.00175 1 -0.5544 0)">40</text>
<text x="170.00" y="286.54" font-size="9.0" text-anchor="end" transform="matrix(1 0 0.00175 1 -0.5001 0)">60</text>
<text x="170.00" y="255.42" font-size="9.0" text-anchor="end" transform="matrix(1 0 0.00175 1 -0.4458 0)">80</text>
<text x="170.00" y="224.30" font-size="9.0" text-anchor="end" transform="matrix(1 0 0.00175 1 -0.3915 0)">100</text>
<text x="212.88" y="386.90" font-size="9.0" text-anchor="middle" transform="matrix(1 0 0.00175 1 -0.6753 0)">4</text>
<text x="291.05" y="386.90" font-size="9.0" text-anchor="middle" transform="matrix(1 0 0.00175 1 -0.6753 0)">6</text>
<text x="369.22" y="386.90" font-size="9.0" text-anchor="middle" transform="matrix(1 0 0.00175 1 -0.6753 0)">8</text>
<text x="291.05" y="403.30" text-anchor="middle" transform="matrix(1 0 0.00175 1 -0.7039 0)"><tspan font-size="9.80">Pre-chamber</tspan><tspan font-size="9.80">&#160; Volume (ml)</tspan></text>
<text transform="translate(153.20,299.30) rotate(-90) skewX(0.1)" font-size="9.9" text-anchor="middle">Time (ms)</text>
<text x="278.50" y="421.20" font-size="9.9" text-anchor="middle" transform="matrix(1 0 0.00175 1 -0.7351 0)">(c)</text>
<text x="183.00" y="233.95" transform="matrix(1 0 0.00175 1 -0.4083 0)"><tspan font-style="italic" font-size="8.80">T</tspan><tspan font-style="italic" font-size="5.81" dy="2">0</tspan><tspan font-size="8.80" dx="-0.3" dy="-2">=550K</tspan></text>
<text x="182.40" y="246.50" transform="matrix(1 0 0.00175 1 -0.4302 0)"><tspan font-style="italic" font-size="8.80">p</tspan><tspan font-style="italic" font-size="5.81" dy="2">0</tspan><tspan font-size="8.80" dx="1.0" dy="-2">=1.1 MPa</tspan></text>
<text x="352.70" y="235.20" font-size="8.95" transform="matrix(1 0 0.00175 1 -0.4105 0)">Jet apperance</text>
<text x="352.70" y="245.85" font-size="8.95" transform="matrix(1 0 0.00175 1 -0.4291 0)">Ignition</text>
<text x="352.70" y="256.50" font-size="8.95" transform="matrix(1 0 0.00175 1 -0.4477 0)">Ignition delay</text>
</g>
</svg>
</body></html>
